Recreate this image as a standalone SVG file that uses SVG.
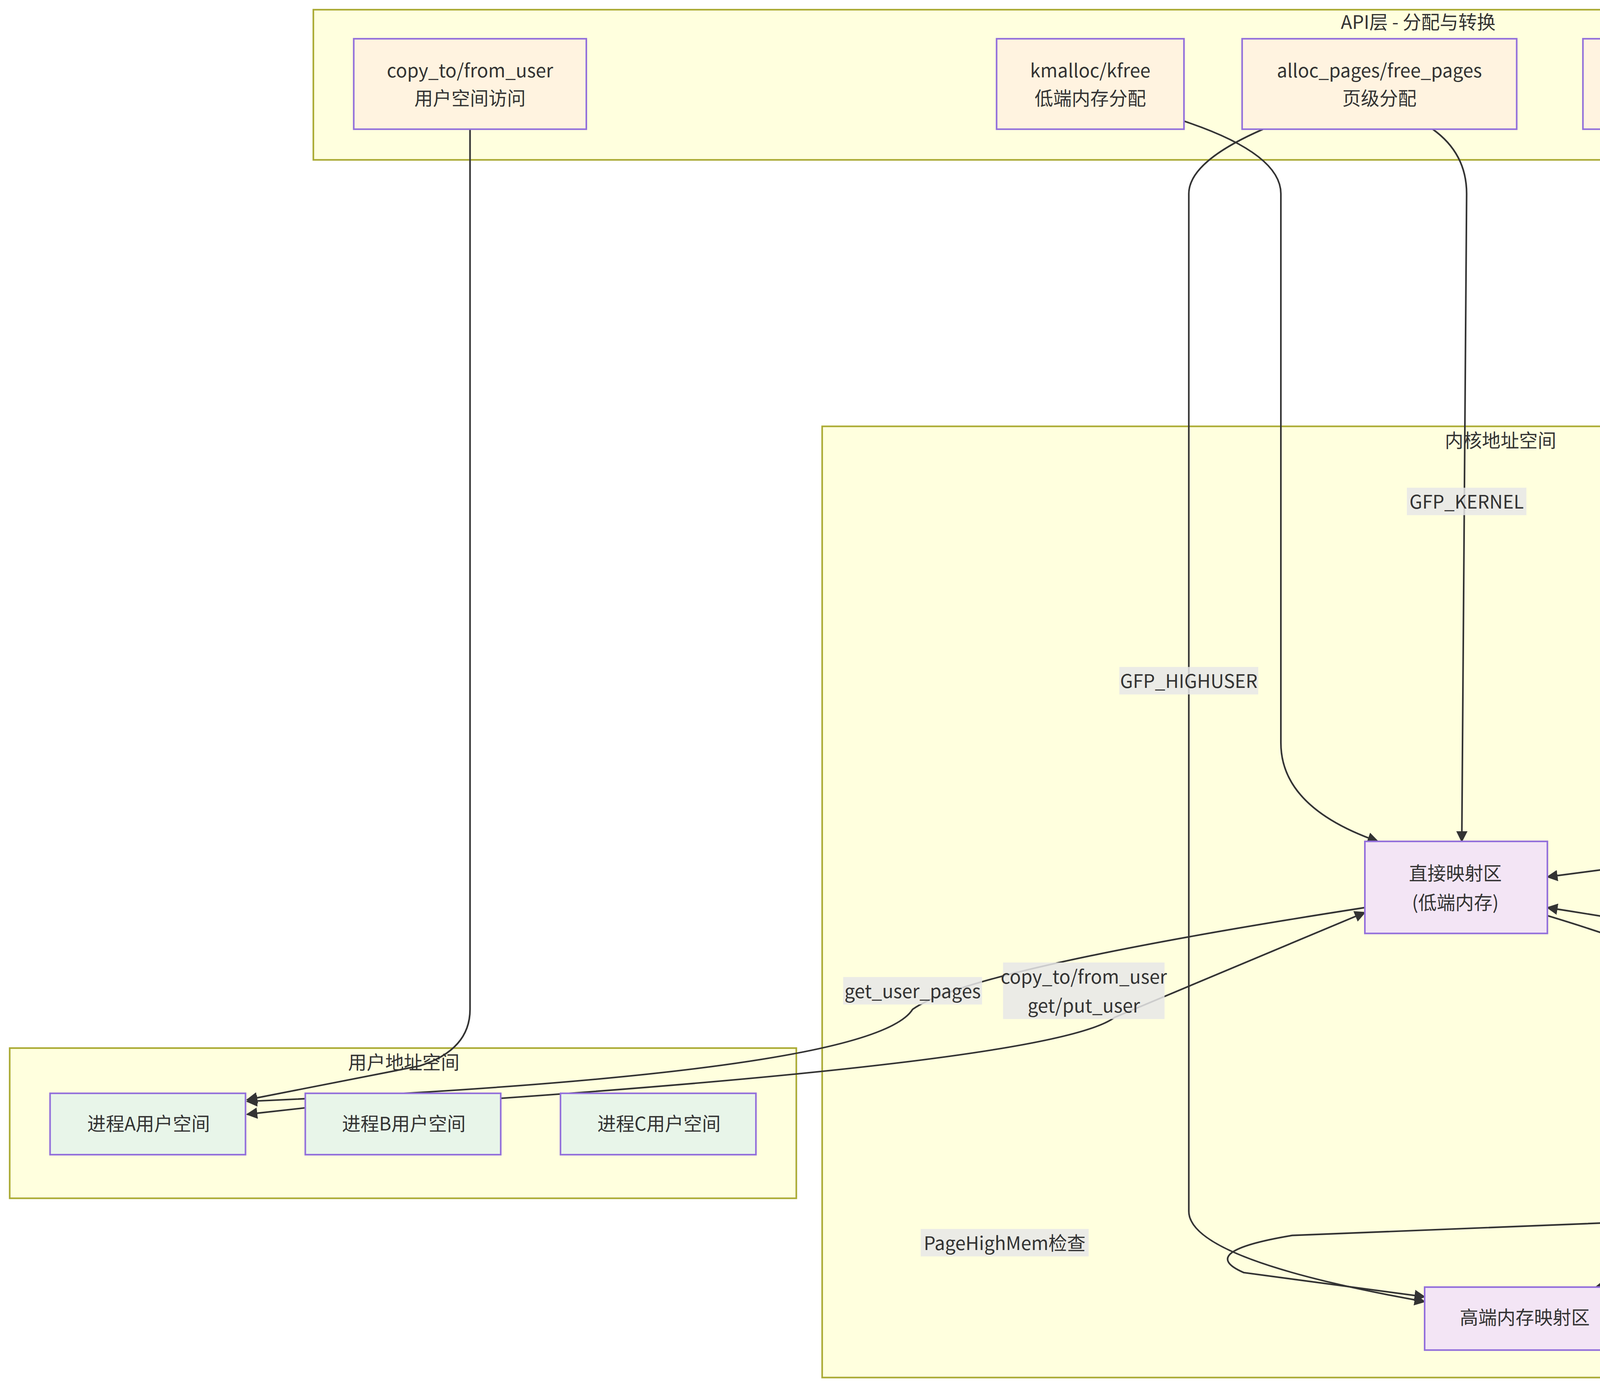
<svg xmlns="http://www.w3.org/2000/svg" width="6463" height="3543" viewBox="0 0 6463 3543">
<defs>
<marker id="ah" viewBox="0 0 10 10" refX="9" refY="5" markerWidth="7" markerHeight="7" orient="auto" markerUnits="userSpaceOnUse"><path d="M0,0 L10,5 L0,10 z" fill="#333"/></marker>
<style>
.cl{fill:#ffffde;stroke:#aaaa33;stroke-width:1}
.n{stroke:#9370db;stroke-width:1}
.api{fill:#fff3e0}.ph{fill:#e1f5fe}.k{fill:#f3e5f5}.u{fill:#e8f5e9}
text{font-family:"Noto Sans CJK SC","Noto Sans",sans-serif;font-size:11.5px;fill:#333;text-anchor:middle}
.e{fill:none;stroke:#333;stroke-width:1;marker-end:url(#ah)}
.lb{fill:#e8e8e8;opacity:0.85}
</style>
</defs>
<rect width="6463" height="3543" fill="#fff"/>
<svg x="0" y="0" width="6463" height="3543" viewBox="0 0 1563 857" preserveAspectRatio="none">
<g id="clusters">
<rect class="cl" x="194" y="6" width="1368" height="93"/><text x="878" y="18">API层 - 分配与转换</text>
<rect class="cl" x="1365" y="135" width="192" height="607"/><text x="1461" y="148">物理内存层</text>
<rect class="cl" x="509" y="264" width="841" height="589"/><text x="929" y="277">内核地址空间</text>
<rect class="cl" x="6" y="649" width="487" height="93"/><text x="250" y="662">用户地址空间</text>
</g>
<g id="edges">
<path class="e" d="M291,80 L291,625 Q291,650 260,660 L153,681"/>
<path class="e" d="M733,75 Q793,95 793,120 L793,460 Q793,500 853,521"/>
<path class="e" d="M782,80 Q736,100 736,120 L736,750 Q736,780 882,806"/>
<path class="e" d="M887,80 Q908,95 908,120 L905,521"/>
<path class="e" d="M1041,80 L1041,770 Q1041,785 988,797"/>
<path class="e" d="M1195,80 L1195,283"/>
<path class="e" d="M1461,80 L1461,153"/>
<path class="e" d="M1461,210 L1461,245 Q1461,270 1255,300"/>
<path class="e" d="M1195,339 Q1195,360 1230,372 L1395,408"/>
<path class="e" d="M1461,450 Q1461,470 1400,485 L958,543"/>
<path class="e" d="M958,567 Q1100,610 1130,650 Q1150,670 1422,692"/>
<path class="e" d="M1422,689 Q1230,650 1200,620 Q1170,595 958,562"/>
<path class="e" d="M845,562 Q600,600 565,625 Q540,665 153,682"/>
<path class="e" d="M189,686 L153,690"/>
<path class="e" d="M189,688 Q650,660 690,630 L845,565"/>
<path class="e" d="M1450,724 Q1440,740 1300,745 L800,765 Q740,775 770,788 L882,803"/>
<path class="e" d="M1007,800 Q1100,780 1300,765 Q1480,750 1480,724"/>
</g>
<g id="labels">
<rect class="lb" x="693" y="413" width="86" height="17"/><text x="736" y="426">GFP_HIGHUSER</text>
<rect class="lb" x="871" y="302" width="74" height="17"/><text x="908" y="315">GFP_KERNEL</text>
<rect class="lb" x="1412" y="229" width="98" height="17"/><text x="1461" y="242">ioremap/iounmap</text>
<rect class="lb" x="1165" y="357" width="60" height="17"/><text x="1195" y="370">无直接转换</text>
<rect class="lb" x="1429" y="468" width="65" height="35"/><text x="1461" y="481">virt_to_phys</text><text x="1461" y="498">phys_to_virt</text>
<rect class="lb" x="1082" y="605" width="76" height="17"/><text x="1120" y="618">page_address</text>
<rect class="lb" x="1170" y="605" width="70" height="17"/><text x="1205" y="618">pfn_to_page</text>
<rect class="lb" x="522" y="605" width="86" height="17"/><text x="565" y="618">get_user_pages</text>
<rect class="lb" x="621" y="596" width="100" height="35"/><text x="671" y="609">copy_to/from_user</text><text x="671" y="627">get/put_user</text>
<rect class="lb" x="570" y="761" width="104" height="17"/><text x="622" y="774">PageHighMem检查</text>
<rect class="lb" x="1121" y="761" width="78" height="17"/><text x="1160" y="774">kmap/kunmap</text>
</g>
<g id="n_copy"><rect class="n api" x="219" y="24" width="144" height="56"/><text x="291" y="48">copy_to/from_user</text><text x="291" y="65">用户空间访问</text></g>
<g id="n_kmalloc"><rect class="n api" x="617" y="24" width="116" height="56"/><text x="675" y="48">kmalloc/kfree</text><text x="675" y="65">低端内存分配</text></g>
<g id="n_alloc"><rect class="n api" x="769" y="24" width="170" height="56"/><text x="854" y="48">alloc_pages/free_pages</text><text x="854" y="65">页级分配</text></g>
<g id="n_kmap"><rect class="n api" x="980" y="24" width="120" height="56"/><text x="1040" y="48">kmap/kunmap</text><text x="1040" y="65">高端内存映射</text></g>
<g id="n_vmalloc"><rect class="n api" x="1137" y="24" width="116" height="56"/><text x="1195" y="48">vmalloc/vfree</text><text x="1195" y="65">虚拟内存分配</text></g>
<g id="n_dma"><rect class="n api" x="1386" y="24" width="150" height="56"/><text x="1461" y="48">dma_alloc_coherent</text><text x="1461" y="65">DMA内存分配</text></g>
<g id="n_bus"><rect class="n ph" x="1391" y="153" width="141" height="57"/><text x="1461" y="177">总线地址</text><text x="1461" y="195">Bus/DMA Address</text></g>
<g id="n_phys"><rect class="n ph" x="1395" y="393" width="133" height="57"/><text x="1461" y="417">物理地址</text><text x="1461" y="435">Physical Address</text></g>
<g id="n_pfn"><rect class="n ph" x="1422" y="668" width="78" height="56"/><text x="1461" y="692">页帧号</text><text x="1461" y="709">PFN</text></g>
<g id="n_vm"><rect class="n k" x="1135" y="283" width="119" height="56"/><text x="1195" y="306">动态映射区</text><text x="1195" y="324">(vmalloc区)</text></g>
<g id="n_direct"><rect class="n k" x="845" y="521" width="113" height="57"/><text x="901" y="545">直接映射区</text><text x="901" y="563">(低端内存)</text></g>
<g id="n_high"><rect class="n k" x="882" y="797" width="125" height="39"/><text x="944" y="820">高端内存映射区</text></g>
<g id="n_fix"><rect class="n k" x="1069" y="797" width="101" height="39"/><text x="1119" y="820">固定映射区</text></g>
<g id="n_code"><rect class="n k" x="1207" y="797" width="118" height="39"/><text x="1266" y="820">内核代码/数据</text></g>
<g id="n_pa"><rect class="n u" x="31" y="677" width="121" height="38"/><text x="92" y="700">进程A用户空间</text></g>
<g id="n_pb"><rect class="n u" x="189" y="677" width="121" height="38"/><text x="250" y="700">进程B用户空间</text></g>
<g id="n_pc"><rect class="n u" x="347" y="677" width="121" height="38"/><text x="408" y="700">进程C用户空间</text></g>
</svg>
</svg>
